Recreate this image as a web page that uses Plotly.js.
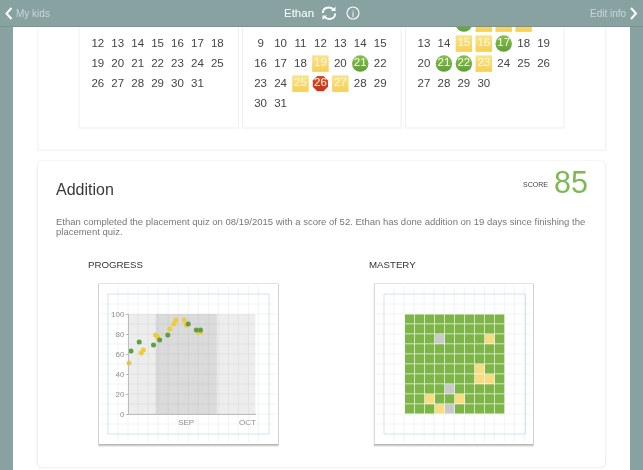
<!DOCTYPE html>
<html>
<head>
<meta charset="utf-8">
<script src="https://cdn.plot.ly/plotly-3.0.1.min.js"></script>
<style>html,body{margin:0;padding:0;background:#88a2a2;overflow:hidden}#c{width:643px;height:470px;filter:blur(0.3px)}</style>
</head>
<body>
<div id="c"></div>
<script>
// ---------- data ----------
const yellowDates = ['2015-08-19','2015-08-25','2015-08-26','2015-09-01','2015-09-02','2015-09-08','2015-09-10','2015-09-11','2015-09-15','2015-09-16','2015-09-22','2015-09-23'];
const yellowScores = [51,61,64,79,77,85,90,94,94,89,82,82];
const greenDates = ['2015-08-20','2015-08-24','2015-08-31','2015-09-03','2015-09-07','2015-09-17','2015-09-21','2015-09-23'];
const greenScores = [63,72,69,74,79,90,84,84];
const monthBandsDark = ['2015-09-01','2015-10-01'];
const yTicks = [0,20,40,60,80,100];
const xTickDates = ['2015-09-16','2015-10-16'];
const xTickLabels = ['SEP','OCT'];
const masteryRows = [
 [0,0,0,0,0,0,0,0,0,0],
 [0,0,0,0,0,0,0,0,0,0],
 [0,0,0,2,0,0,0,0,1,0],
 [0,0,0,0,0,0,0,0,0,0],
 [0,0,0,0,0,0,0,0,0,0],
 [0,0,0,0,0,0,0,1,0,0],
 [0,0,0,0,0,0,0,1,1,0],
 [0,0,0,0,2,0,0,0,0,0],
 [0,0,1,0,0,1,0,0,0,0],
 [0,0,0,1,2,0,0,0,0,0]
];
const julyDays = [12,13,14,15,16,17,18,19,20,21,22,23,24,25,26,27,28,29,30,31];
const augustDays = [9,10,11,12,13,14,15,16,17,18,19,20,21,22,23,24,25,26,27,28,29,30,31];
const septemberDays = [13,14,15,16,17,18,19,20,21,22,23,24,25,26,27,28,29,30];
const augustGreen = [21];
const augustYellow = [19,25,27];
const augustRed = [26];
const septemberGreen = [8,17,21,22];
const septemberYellow = [9,10,11,15,16,23];

// ---------- calendar placement ----------
const julyGrid = {x:97.8, off:2};
const augustGrid = {x:260.6, off:5};
const septemberGrid = {x:424, off:1};
const colW = 19.93, rowH = 20, rowTop = 3.9;
const px = (g,d)=> g.x + ((d+g.off)%7)*colW;
const py = (g,d)=> rowTop + Math.floor((d+g.off)/7)*rowH;

const dayFont = {family:'"Liberation Sans",Arial,sans-serif', size:11.5, color:'#444'};
const chipFont = {family:'"Liberation Sans",Arial,sans-serif', size:11.5, color:'#fff8dc'};

function plainDays(g,days,skip){
  const d = days.filter(v=>!skip.includes(v));
  return {type:'scatter',mode:'text',x:d.map(v=>px(g,v)),y:d.map(v=>py(g,v)),text:d.map(String),
    textposition:'middle center',textfont:dayFont,hoverinfo:'skip',showlegend:false,xaxis:'x',yaxis:'y'};
}
function chips(g,days,color,symbol,shade){
  return {type:'scatter',mode:'markers+text',x:days.map(v=>px(g,v)),y:days.map(v=>py(g,v)-0.3),text:days.map(String),
    textposition:'middle center',textfont:chipFont,cliponaxis:true,
    marker:{symbol:symbol,size:16.5,color:color,line:{width:0},gradient:{type:'vertical',color:shade}},hoverinfo:'skip',showlegend:false,xaxis:'x',yaxis:'y'};
}
const YEL='#fae489', YEL2='#f5cf58', GRN='#84c053', GRN2='#5fa034', RED='#d9492a', RED2='#c4361a';

const traces = [
  plainDays(julyGrid,julyDays,[]),
  plainDays(augustGrid,augustDays,[...augustGreen,...augustYellow,...augustRed]),
  plainDays(septemberGrid,septemberDays,[...septemberGreen,...septemberYellow]),
  chips(augustGrid,augustYellow,YEL,'square',YEL2),
  chips(augustGrid,augustGreen,GRN,'circle',GRN2),
  chips(augustGrid,augustRed,RED,'octagon',RED2),
  chips(septemberGrid,septemberYellow,YEL,'square',YEL2),
  chips(septemberGrid,septemberGreen,GRN,'circle',GRN2),
  {type:'scatter',mode:'markers',x:yellowDates,y:yellowScores,xaxis:'x2',yaxis:'y2',cliponaxis:false,
    marker:{size:5,color:'#f1c93a'},hoverinfo:'skip',showlegend:false},
  {type:'scatter',mode:'markers',x:greenDates,y:greenScores,xaxis:'x2',yaxis:'y2',cliponaxis:false,
    marker:{size:5,color:'#5f9f3f'},hoverinfo:'skip',showlegend:false},
  {type:'heatmap',z:masteryRows,xaxis:'x3',yaxis:'y3',zmin:0,zmax:2,showscale:false,xgap:0.7,ygap:0.7,
    colorscale:[[0,'#7db548'],[0.5,'#f6dd82'],[1,'#c9c9c9']],hoverinfo:'skip'}
];

// ---------- page furniture ----------
const shapes = [];
const rect=(x0,y0,x1,y1,fill,line,lw,layer)=>shapes.push({type:'rect',xref:'x',yref:'y',x0,y0,x1,y1,fillcolor:fill,
  line:{color:line||'rgba(0,0,0,0)',width:line?(lw||1):0},layer:layer||'below'});
const path=(d,fill,line,lw,layer)=>shapes.push({type:'path',xref:'x',yref:'y',path:d,fillcolor:fill||'rgba(0,0,0,0)',
  line:{color:line||'rgba(0,0,0,0)',width:line?(lw||1):0},layer:layer||'below'});
const roundRect=(x0,y0,x1,y1,r)=>`M ${x0+r} ${y0} L ${x1-r} ${y0} Q ${x1} ${y0} ${x1} ${y0+r} L ${x1} ${y1-r} Q ${x1} ${y1} ${x1-r} ${y1} L ${x0+r} ${y1} Q ${x0} ${y1} ${x0} ${y1-r} L ${x0} ${y0+r} Q ${x0} ${y0} ${x0+r} ${y0} Z`;

// white column
rect(13,0,630,470,'#ffffff');
// upper card with soft shadow
rect(36.5,0,607,151.5,'rgba(0,0,0,0.02)');
rect(37.5,0,606,150.5,'rgba(0,0,0,0.035)');
rect(38.5,0,605,149.5,'#ffffff');
// calendar boxes
[[79,238.5],[242.5,401],[405.5,564]].forEach(b=>{
  rect(b[0]-0.5,10,b[1]+0.5,128.5,'#efefef');
  rect(b[0]+0.5,10,b[1]-0.5,127.5,'#ffffff');
});
// lower card
path(roundRect(36,160,607,469,6),'rgba(0,0,0,0.02)');
path(roundRect(37,160.5,606,468,6),'rgba(0,0,0,0.035)');
path(roundRect(38,161,605,467,5),'#ffffff');

function paperCard(x0,y0,x1,y1,tx0,ty0,tx1,ty1){
  rect(x0-1,y0,x1+1,y1+3,'rgba(0,0,0,0.08)');
  rect(x0-0.5,y0-0.5,x1+0.5,y1+1.5,'rgba(0,0,0,0.22)');
  rect(x0,y0,x1,y1,'#ffffff');
  for(let x=tx0+10;x<tx1-1;x+=10.03) shapes.push({type:'line',xref:'x',yref:'y',x0:x,x1:x,y0:y0+2,y1:y1-2,line:{color:'#eef1f1',width:0.8},layer:'below'});
  for(let y=ty0+10;y<ty1-1;y+=10) shapes.push({type:'line',xref:'x',yref:'y',x0:x0+2,x1:x1-2,y0:y,y1:y,line:{color:'#eef1f1',width:0.8},layer:'below'});
  rect(tx0,ty0,tx1,ty1,'rgba(0,0,0,0)','#cfe6e6',1);
}
paperCard(99,284,278,444,108,294,269,434);
paperCard(374.5,284,533,444,384,294,525.5,434);

// progress month bands
shapes.push({type:'rect',xref:'x2',yref:'y2',x0:'2015-08-19',x1:'2015-10-20',y0:0,y1:100,fillcolor:'rgba(0,0,0,0.07)',line:{width:0},layer:'below'});
shapes.push({type:'rect',xref:'x2',yref:'y2',x0:monthBandsDark[0],x1:monthBandsDark[1],y0:0,y1:100,fillcolor:'rgba(0,0,0,0.075)',line:{width:0},layer:'below'});

// header
rect(0,0,643,26,'#88a2a2',null,0,'above');
rect(0,26,643,27,'#7a9292',null,0,'above');
rect(0,27,13,470,'#88a2a2',null,0,'above');
rect(630,27,643,470,'#88a2a2',null,0,'above');
path('M 11.5 8 L 6.5 13.5 L 11.5 19','rgba(0,0,0,0)','#ffffff',2,'above');
path('M 631 8 L 636 13.5 L 631 19','rgba(0,0,0,0)','#ffffff',2,'above');
// refresh icon
path('M 322.8 13 Q 323 7.5 329 7.5 Q 332 7.5 334 10','rgba(0,0,0,0)','#ffffff',1.9,'above');
path('M 335.2 13.5 Q 335 19 329 19 Q 326 19 324 16.5','rgba(0,0,0,0)','#ffffff',1.9,'above');
path('M 335.5 6.5 L 335.5 11 L 331 11 Z','#ffffff',null,0,'above');
path('M 322.5 20 L 322.5 15.5 L 327 15.5 Z','#ffffff',null,0,'above');
// info icon
shapes.push({type:'circle',xref:'x',yref:'y',x0:347,x1:359,y0:7,y1:19,line:{color:'#ffffff',width:1.1},fillcolor:'rgba(0,0,0,0)',layer:'above'});

// ---------- text ----------
const SANS='"Liberation Sans",Arial,sans-serif';
const ann=(x,y,text,size,color,anchor,extra)=>Object.assign({xref:'x',yref:'y',x,y,text,showarrow:false,xanchor:anchor||'left',yanchor:'middle',
  font:{family:SANS,size,color},borderpad:0},extra||{});
const annotations=[
  ann(15,13.5,'My kids',10,'#c9d6d6'),
  ann(299,13,'Ethan',11.5,'#ffffff','center'),
  ann(353,13,'i',9.5,'#ffffff','center'),
  ann(627.5,13.5,'Edit info',10,'#c9d6d6','right'),
  ann(54.5,189,'Addition',16,'#3a3a3a'),
  ann(548.5,184,'SCORE',7,'#444444','right'),
  ann(553,182,'85',30.5,'#7fb755'),
  ann(54.5,221,'Ethan completed the placement quiz on 08/19/2015 with a score of 52. Ethan has done addition on 19 days since finishing the',9.5,'#777777'),
  ann(54.5,231,'placement quiz.',9.5,'#777777'),
  ann(87,264,'PROGRESS',9.7,'#333333'),
  ann(368,264,'MASTERY',9.7,'#333333')
];

const hidden={visible:false,fixedrange:true};
const tickFont={family:SANS,size:8,color:'#909090'};
const layout={
  width:643,height:470,margin:{l:0,r:0,t:0,b:0,pad:0},
  paper_bgcolor:'#88a2a2',plot_bgcolor:'rgba(0,0,0,0)',showlegend:false,
  xaxis:Object.assign({domain:[0,1],range:[0,643]},hidden),
  yaxis:Object.assign({domain:[0,1],range:[470,0]},hidden),
  xaxis2:{domain:[129/643,255.6/643],anchor:'y2',type:'date',range:['2015-08-19','2015-10-20'],
    tickmode:'array',tickvals:xTickDates,ticktext:xTickLabels,tickfont:tickFont,ticks:'',showgrid:false,zeroline:false,
    showline:true,linecolor:'#bdbdbd',linewidth:1,fixedrange:true},
  yaxis2:{domain:[1-414/470,1-314/470],anchor:'x2',range:[0,100],tickmode:'array',tickvals:yTicks,tickfont:tickFont,
    ticks:'outside',ticklen:2,tickcolor:'#bdbdbd',showgrid:false,zeroline:false,showline:true,linecolor:'#bdbdbd',linewidth:1,fixedrange:true},
  xaxis3:Object.assign({domain:[405/643,505/643],anchor:'y3',range:[-0.5,9.5]},hidden),
  yaxis3:Object.assign({domain:[1-414.3/470,1-314.3/470],anchor:'x3',range:[9.5,-0.5]},hidden),
  shapes,annotations
};
Plotly.newPlot('c',traces,layout,{displayModeBar:false,staticPlot:true});
</script>
</body>
</html>
